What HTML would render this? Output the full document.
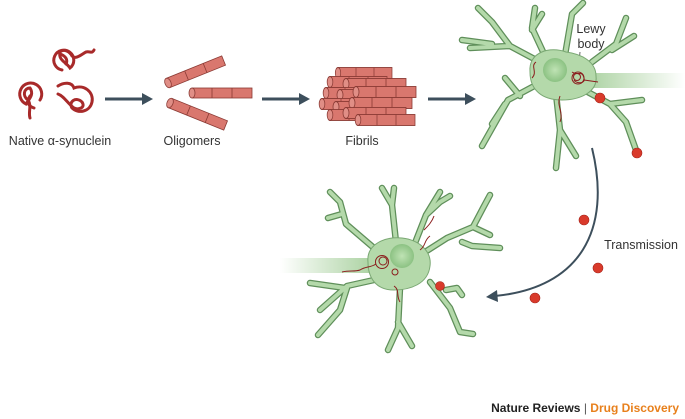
<!DOCTYPE html>
<html><head><meta charset="utf-8"><style>
html,body{margin:0;padding:0;background:#fff;}
svg{display:block;}
text{font-family:"Liberation Sans",sans-serif;}
</style></head><body>
<svg width="685" height="419" viewBox="0 0 685 419" xmlns="http://www.w3.org/2000/svg">
<defs>
<linearGradient id="ax1" x1="0" x2="1"><stop offset="0" stop-color="#a9d19f"/><stop offset="1" stop-color="#a9d19f" stop-opacity="0"/></linearGradient>
<linearGradient id="ax2" x1="1" x2="0"><stop offset="0" stop-color="#a9d19f"/><stop offset="1" stop-color="#a9d19f" stop-opacity="0"/></linearGradient>
<radialGradient id="nuc"><stop offset="0" stop-color="#bfe3b4"/><stop offset="1" stop-color="#8cc283"/></radialGradient>
<g id="cyl">
<rect x="0" y="-5" width="60" height="10" fill="#d9776e" stroke="#8a3a34" stroke-width="0.8"/>
<line x1="20" y1="-5" x2="20" y2="5" stroke="#8a3a34" stroke-width="0.8"/>
<line x1="40" y1="-5" x2="40" y2="5" stroke="#8a3a34" stroke-width="0.8"/>
<ellipse cx="0" cy="0" rx="3" ry="5" fill="#e08e86" stroke="#8a3a34" stroke-width="0.8"/>
</g>
</defs>

<!-- native alpha-synuclein -->
<g fill="none" stroke="#a82a2a" stroke-width="3" stroke-linecap="round">
<path d="M62,70 a10,10 0 1,1 8,-2 c-4,-6 -12,-8 -10,-16 c4,-4 10,0 12,4 c4,4 10,-2 14,-4 c4,-1 6,2 8,-2"/>
<path d="M60,54 c6,2 8,6 6,10"/>
<path d="M40,100 a11,11 0 1,0 -14,4 c4,-6 8,-10 4,-16 c-6,0 -8,8 -2,12 c4,6 0,12 2,18"/>
<path d="M30,96 c-4,6 -2,10 4,12"/>
<path d="M58,86 c6,-4 14,-4 16,2 c10,-4 20,4 18,14 c-2,10 -14,12 -20,6 c-4,-6 4,-12 10,-6 c4,6 -4,8 -8,6 c-6,-4 -10,-12 -16,-14"/>
</g>
<!-- arrows -->
<g stroke="#3d4f5c" stroke-width="3" fill="#3d4f5c">
<line x1="105" y1="99" x2="144" y2="99"/><polygon points="142,93 153,99 142,105" stroke="none"/>
<line x1="262" y1="99" x2="301" y2="99"/><polygon points="299,93 310,99 299,105" stroke="none"/>
<line x1="428" y1="99" x2="467" y2="99"/><polygon points="465,93 476,99 465,105" stroke="none"/>
</g>
<!-- oligomers -->
<use href="#cyl" transform="translate(168,83) rotate(-22)"/>
<use href="#cyl" transform="translate(192,93)"/>
<use href="#cyl" transform="translate(170,103) rotate(22)"/>
<!-- fibrils -->
<g>
<use href="#cyl" transform="translate(338,73) scale(0.9,1.1)"/>
<use href="#cyl" transform="translate(330,82) scale(0.95,1.1)"/>
<use href="#cyl" transform="translate(346,84) scale(1,1.1)"/>
<use href="#cyl" transform="translate(326,93) scale(0.95,1.1)"/>
<use href="#cyl" transform="translate(340,95) scale(1,1.1)"/>
<use href="#cyl" transform="translate(356,92) scale(1,1.1)"/>
<use href="#cyl" transform="translate(322,104) scale(0.95,1.1)"/>
<use href="#cyl" transform="translate(336,107) scale(1,1.1)"/>
<use href="#cyl" transform="translate(352,103) scale(1,1.1)"/>
<use href="#cyl" transform="translate(330,115) scale(0.95,1.1)"/>
<use href="#cyl" transform="translate(346,113) scale(1,1.1)"/>
<use href="#cyl" transform="translate(358,120) scale(0.95,1.1)"/>
</g>
<!-- labels -->
<g font-size="12.5" fill="#333">
<text x="60" y="145" text-anchor="middle">Native α-synuclein</text>
<text x="192" y="145" text-anchor="middle">Oligomers</text>
<text x="362" y="145" text-anchor="middle">Fibrils</text>
<text x="591" y="33" text-anchor="middle">Lewy</text>
<text x="591" y="48" text-anchor="middle">body</text>
<text x="641" y="249" text-anchor="middle">Transmission</text>
</g>
<line x1="580" y1="52" x2="579" y2="66" stroke="#444" stroke-width="0.8"/>

<!-- neuron 1 -->
<g stroke-linecap="round" stroke-linejoin="round" fill="none">
<path d="M540,62 L510,46 L470,48 M510,46 L492,22 L478,8 M492,44 L462,40 M545,56 L532,28 L535,8 M532,30 L542,14 M565,55 L572,14 L583,3 M592,62 L616,44 L626,18 M612,50 L634,36 M538,84 L508,100 L482,146 M505,104 L492,124 M556,94 L560,130 L556,168 M560,130 L576,156 M584,90 L610,104 L642,100 M610,104 L626,122 L636,150 M520,96 L505,78" stroke="#5f8f5a" stroke-width="6.5"/>
<path d="M540,62 L510,46 L470,48 M510,46 L492,22 L478,8 M492,44 L462,40 M545,56 L532,28 L535,8 M532,30 L542,14 M565,55 L572,14 L583,3 M592,62 L616,44 L626,18 M612,50 L634,36 M538,84 L508,100 L482,146 M505,104 L492,124 M556,94 L560,130 L556,168 M560,130 L576,156 M584,90 L610,104 L642,100 M610,104 L626,122 L636,150 M520,96 L505,78" stroke="#b4d9aa" stroke-width="4"/>
</g>
<rect x="585" y="73" width="100" height="15" fill="url(#ax1)"/>
<path d="M530,72 C528,52 550,46 566,52 C582,54 596,62 596,76 C598,92 580,100 562,100 C542,100 530,90 530,72Z" fill="#b4d9aa" stroke="#7aa873" stroke-width="1"/>
<circle cx="555" cy="70" r="12" fill="url(#nuc)"/>
<g fill="none" stroke="#8b1e1e" stroke-width="1"><circle cx="578" cy="78" r="6"/><circle cx="577" cy="77" r="3.5"/><path d="M572,72 c6,4 10,-2 12,6 c2,6 -8,6 -10,2 M584,80 l14,2 M536,62 c-6,4 2,10 -4,16 M560,96 c-4,10 4,16 0,26"/></g>

<!-- neuron 2 -->
<g stroke-linecap="round" stroke-linejoin="round" fill="none">
<path d="M374,248 L346,224 L340,202 L330,192 M342,214 L328,218 M396,242 L392,205 L382,188 M392,205 L394,188 M415,243 L426,215 L440,192 M426,215 L440,202 L450,196 M425,252 L447,238 L473,227 L483,208 L490,195 M473,227 L490,235 M462,242 L472,246 L500,248 M430,282 L450,308 L460,332 L473,334 M446,290 L457,288 L462,295 M400,288 L398,328 L388,350 M398,322 L412,346 M374,280 L347,286 L320,310 M347,288 L340,310 L318,335 M345,288 L310,283" stroke="#5f8f5a" stroke-width="6.5"/>
<path d="M374,248 L346,224 L340,202 L330,192 M342,214 L328,218 M396,242 L392,205 L382,188 M392,205 L394,188 M415,243 L426,215 L440,192 M426,215 L440,202 L450,196 M425,252 L447,238 L473,227 L483,208 L490,195 M473,227 L490,235 M462,242 L472,246 L500,248 M430,282 L450,308 L460,332 L473,334 M446,290 L457,288 L462,295 M400,288 L398,328 L388,350 M398,322 L412,346 M374,280 L347,286 L320,310 M347,288 L340,310 L318,335 M345,288 L310,283" stroke="#b4d9aa" stroke-width="4"/>
</g>
<rect x="280" y="258" width="95" height="15" fill="url(#ax2)"/>
<path d="M368,262 C366,244 386,236 402,238 C420,240 432,252 430,266 C428,284 410,290 394,290 C376,290 368,278 368,262Z" fill="#b4d9aa" stroke="#7aa873" stroke-width="1"/>
<circle cx="402" cy="256" r="12" fill="url(#nuc)"/>
<g fill="none" stroke="#8b1e1e" stroke-width="1"><circle cx="382" cy="262" r="6.5"/><circle cx="383" cy="261" r="4"/><circle cx="395" cy="272" r="3"/><path d="M376,264 c-6,4 -10,2 -16,6 c-6,2 -10,0 -18,2 M394,286 c6,4 2,10 6,16 M420,250 c6,-4 4,-10 10,-14 M424,230 c4,-4 8,-8 10,-14"/></g>

<!-- transmission arrow -->
<path d="M592,148 C612,230 580,288 495,296" fill="none" stroke="#3d4f5c" stroke-width="2"/>
<polygon points="486,297 497,290 498,302" fill="#3d4f5c"/>
<!-- red dots -->
<g fill="#d93a2b" stroke="#a52218" stroke-width="0.6">
<circle cx="600" cy="98" r="5"/><circle cx="637" cy="153" r="5"/><circle cx="584" cy="220" r="5"/>
<circle cx="598" cy="268" r="5"/><circle cx="535" cy="298" r="5"/><circle cx="440" cy="286" r="4.5"/>
</g>
<!-- footer -->
<text x="679" y="412" text-anchor="end" font-size="12" font-weight="bold" fill="#222">Nature Reviews <tspan font-weight="normal" fill="#555">|</tspan> <tspan fill="#e8801c">Drug Discovery</tspan></text>
</svg>
</body></html>
